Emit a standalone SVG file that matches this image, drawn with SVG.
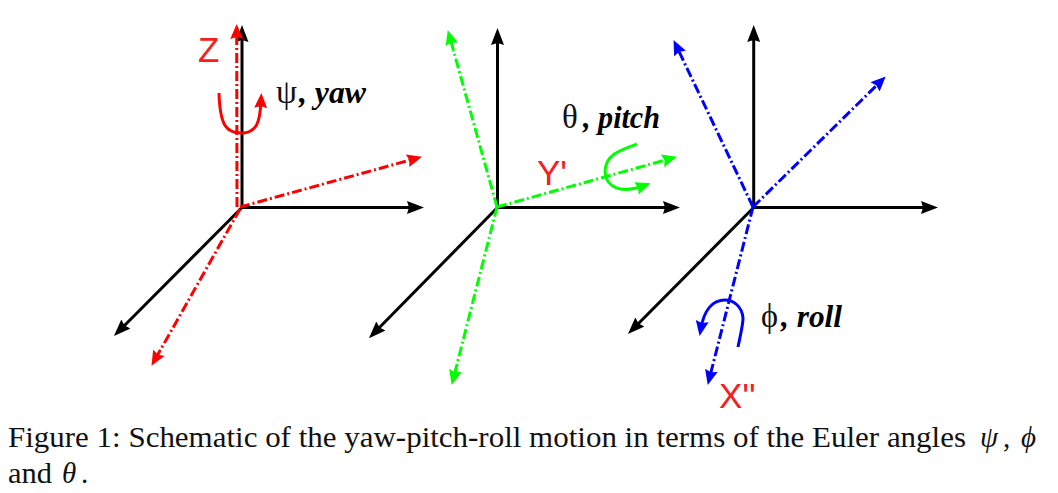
<svg xmlns="http://www.w3.org/2000/svg" width="1058" height="493" viewBox="0 0 1058 493">
<style>
.ax{fill:none;stroke:#000;stroke-width:3;marker-end:url(#hk)}
.r,.g,.b{fill:none;stroke-width:3;stroke-dasharray:10 3 2 3}
.r{stroke:#f00;marker-end:url(#hr)}
.g{stroke:#0f0;marker-end:url(#hg)}
.b{stroke:#00f;marker-end:url(#hb)}
.c{stroke-dasharray:none;stroke-width:3}
.lab{font-family:"Liberation Sans",sans-serif;font-size:35px;fill:#f5201c}
.gr{font-family:"Liberation Serif",serif;font-size:33px;fill:#111}
.nm{font-family:"Liberation Serif",serif;font-size:31px;font-weight:bold;font-style:italic;fill:#000}
.cap{font-family:"Liberation Serif",serif;font-size:29px;fill:#111}
.mi{font-style:italic}
</style>
<defs>
<marker id="hk" markerUnits="userSpaceOnUse" markerWidth="18" markerHeight="14" refX="7" refY="7" orient="auto"><path d="M0,0.5L17,7L0,13.5L2,7z" fill="#000"/></marker>
<marker id="hr" markerUnits="userSpaceOnUse" markerWidth="16" markerHeight="14" refX="7" refY="7" orient="auto"><path d="M0,0.5L15,7L0,13.5L2,7z" fill="#f00"/></marker>
<marker id="hg" markerUnits="userSpaceOnUse" markerWidth="16" markerHeight="14" refX="7" refY="7" orient="auto"><path d="M0,0.5L15,7L0,13.5L2,7z" fill="#0f0"/></marker>
<marker id="hb" markerUnits="userSpaceOnUse" markerWidth="16" markerHeight="14" refX="7" refY="7" orient="auto"><path d="M0,0.5L15,7L0,13.5L2,7z" fill="#00f"/></marker>
</defs>
<rect width="1058" height="493" fill="#fff"/>
<g id="connectors">
<path class="ax" d="M242,207.5V35"/><path class="ax" d="M242,207.5H414"/><path class="ax" d="M242,207.5L121,329"/>
<path class="ax" d="M497.5,207.5V38"/><path class="ax" d="M497.5,207.5H670"/><path class="ax" d="M497.5,207.5L376,331"/>
<path class="ax" d="M753.7,207.5V35"/><path class="ax" d="M753.7,207.5H928"/><path class="ax" d="M753.7,207.5L635,327"/>
<path class="r" d="M237,207L236.7,32"/><path class="r" d="M240,207L414.3,158.9"/><path class="r" d="M240,209L155.4,358.9"/>
<path class="g" d="M497,207L449.9,37.7"/><path class="g" d="M497,207L669.3,158.9"/><path class="g" d="M497,207L453.7,377.2"/>
<path class="b" d="M753,207L677,47.3"/><path class="b" d="M753,207L880,82"/><path class="b" d="M753,207L709.7,377.2"/>
<path class="r c" d="M219,93C220,125 226,133 241,133C257,133 260,122 261,101"/>
<path class="g c" d="M637,144C620,150 605,155 605,172C606,187 620,194 643,186"/>
<path class="b c" d="M738,347C741,332 743,325 743,318C742,306 733,300 725,300C712,300 704,311 701,328"/>
</g>
<g id="label-z"><text class="lab" x="198" y="62">Z</text></g>
<g id="label-yaw"><text class="gr" x="276" y="103" textLength="21" lengthAdjust="spacingAndGlyphs">ψ</text><text class="nm" x="299" y="103" textLength="67" lengthAdjust="spacingAndGlyphs">, yaw</text></g>
<g id="label-y"><text class="lab" x="537" y="185">Y'</text></g>
<g id="label-pitch"><text class="gr" x="562" y="128">θ</text><text class="nm" x="583" y="128" textLength="77" lengthAdjust="spacingAndGlyphs">, pitch</text></g>
<g id="label-x"><text class="lab" x="719" y="408">X''</text></g>
<g id="label-roll"><text class="gr" x="761" y="327" textLength="17" lengthAdjust="spacingAndGlyphs">ϕ</text><text class="nm" x="781" y="327" textLength="61" lengthAdjust="spacingAndGlyphs">, roll</text></g>
<g id="caption">
<text class="cap" x="8" y="447" textLength="958" lengthAdjust="spacingAndGlyphs">Figure 1: Schematic of the yaw-pitch-roll motion in terms of the Euler angles</text>
<text class="cap mi" x="980" y="447">ψ</text><text class="cap" x="1003" y="447">,</text><text class="cap mi" x="1021" y="447">ϕ</text>
<text class="cap" x="8" y="483" textLength="44" lengthAdjust="spacingAndGlyphs">and</text><text class="cap mi" x="62" y="483">θ</text><text class="cap" x="81" y="483">.</text>
</g>
</svg>
